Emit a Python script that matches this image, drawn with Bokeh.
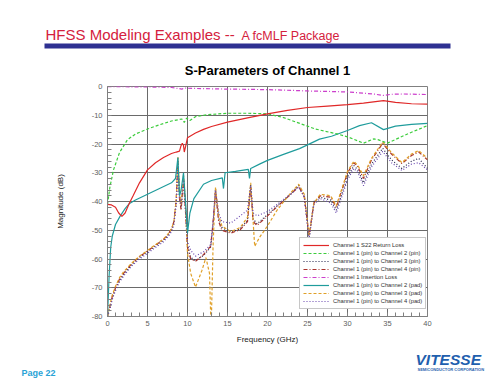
from bokeh.plotting import figure
from bokeh.layouts import column
from bokeh.models import Label, BoxAnnotation, Legend, LegendItem, FixedTicker, Range1d
from bokeh.embed import file_html
from bokeh.resources import INLINE

# ---------------- data ----------------
x_ticks = [0, 5, 10, 15, 20, 25, 30, 35, 40]
x_tick_labels = ["0", "5", "10", "15", "20", "25", "30", "35", "40"]
y_ticks = [0, -10, -20, -30, -40, -50, -60, -70, -80]
y_tick_labels = ["0", "-10", "-20", "-30", "-40", "-50", "-60", "-70", "-80"]

series_names = [
    "Channel 1 S22 Return Loss",
    "Channel 1 (pin) to Channel 2 (pin)",
    "Channel 1 (pin) to Channel 3 (pin)",
    "Channel 1 (pin) to Channel 4 (pin)",
    "Channel 1 Insertion Loss",
    "Channel 1 (pin) to Channel 2 (pad)",
    "Channel 1 (pin) to Channel 3 (pad)",
    "Channel 1 (pin) to Channel 4 (pad)",
]

f_rl = [0, 0.5, 1, 1.4, 1.8, 2.2, 2.7, 3.2, 4, 5, 6, 7, 8, 8.6, 9.0, 9.2, 9.35, 9.5, 9.6, 9.75,
        10, 11, 12, 13, 15, 17.5, 20, 22.5, 25, 27.5, 30, 32, 34.5, 36, 38, 40]
db_rl = [-41, -41.2, -42, -44, -45.2, -44, -40.8, -38, -33.5, -29, -26.5, -24.7, -23.3, -22.8, -22.5, -20.5, -19.8, -20.5, -22.8, -21,
         -17.8, -16.2, -14.9, -13.9, -12.4, -10.9, -9.5, -8.3, -7.3, -6.8, -6.3, -5.8, -4.9, -5.5, -6, -6.1]

f_c2pin = [0, 0.3, 0.75, 1.5, 2.5, 3.5, 5, 6.5, 8, 9.3, 9.6, 9.9, 10.3, 11, 12.5, 15, 17.5, 20, 22, 23,
           25, 26, 28.7, 30, 32, 33.3, 33.8, 35, 37.5, 40]
db_c2pin = [-41, -35, -29, -23, -18.5, -16.5, -14.8, -13.3, -12, -11.3, -12.5, -11, -11.8, -10.5, -9.8, -9.3, -9.3, -9.5, -10.8, -11.8,
            -13.8, -14.8, -16.5, -17.5, -19.7, -18.2, -18.5, -19.7, -16.5, -13.6]

f_low = [0, 0.3, 0.6, 1, 1.5, 2, 3, 4, 5, 6, 7, 7.5, 8, 8.3, 8.6, 8.8, 9.0, 9.2, 9.5, 9.7,
         10.0, 10.4, 11, 12, 12.9, 13.2, 13.5, 13.9, 14.3, 15.4, 16.6, 17.5, 17.9, 18.2, 18.7, 20, 21.2, 22.9, 23.9, 24.6,
         25.2, 25.8, 26.6, 27.9, 28.6, 30, 30.8, 31.3, 32, 33, 34.4, 35.5, 36.8, 38, 38.9, 40]
db_c3pin = [-80, -77, -73.5, -70.5, -67.5, -65.5, -62, -59.5, -57.5, -55.5, -53.5, -52, -50, -47.5, -40, -25, -38, -42, -32, -40,
            -55, -59.5, -60.5, -58.8, -55.9, -48, -35.5, -46, -49, -50.7, -49.5, -46.5, -34, -46, -47.8, -44.5, -41.5, -37.3, -34.5, -38,
            -53, -40, -38.5, -39.5, -43, -31.5, -27.5, -29, -33.5, -27, -21.5, -25.5, -28.5, -26, -25, -28.5]
db_c4pin = [-80, -76.5, -73, -70, -67, -65, -61.7, -59.2, -57.2, -55.2, -53.2, -51.7, -49.5, -47, -39, -26, -39, -43, -33, -41,
            -56, -60, -60.8, -58.5, -55.5, -47, -36.5, -47, -50, -51, -49.8, -47, -35, -47, -48.3, -45, -41.8, -37.5, -34.8, -38.5,
            -52, -40.5, -38, -38.5, -42, -30, -26.5, -28, -32, -25.5, -19.8, -23.5, -26.8, -24, -22.8, -25.5]
db_c4pad = [-80, -77.5, -74, -71, -68, -66, -62.5, -60, -58, -56, -54, -52.5, -50.5, -48, -41, -26, -38.5, -41, -32.5, -40.5,
            -54, -57, -59, -57.5, -55, -47, -36, -44, -47, -47.5, -45, -43, -34.5, -44, -45, -43.5, -41, -37.5, -35, -38.5,
            -53, -41, -39, -40.5, -44, -32.5, -28.5, -30, -34.5, -28, -22.6, -26.5, -29.2, -27, -26.5, -29]

f_c3pad = [0, 0.3, 0.6, 1, 1.5, 2, 3, 4, 5, 6, 7, 7.5, 8, 8.3, 8.6, 8.8, 9.0, 9.2, 9.5, 9.7,
           10.0, 10.4, 11, 11.8, 12.3, 12.75, 12.95, 13.2, 13.5, 13.9, 14.3, 15.4, 16.6, 17.5, 17.9, 18.4, 19, 20, 21.2, 22.9,
           23.9, 24.6, 25.2, 25.8, 26.6, 27.9, 28.6, 30, 30.8, 31.3, 32, 33, 34.4, 35.5, 36.8, 38, 38.9, 40]
db_c3pad = [-80, -76, -72.5, -69.5, -66.5, -64.5, -61.5, -59, -57, -55, -53, -51.5, -49.5, -47, -39, -24.5, -37, -41, -31, -38,
            -58, -65, -69.8, -64, -59.5, -65, -85, -55, -35, -45, -48.5, -50.5, -49, -45.5, -33.5, -55.6, -52.5, -48.5, -43, -37,
            -34, -37.5, -52, -40.5, -37.5, -38, -41.5, -29.5, -26, -27.5, -31, -25, -19.3, -23, -26.5, -23.5, -22.3, -25]

f_il = [0, 3, 6, 8, 9.3, 9.6, 10, 12, 15, 18, 20, 22.5, 25, 28, 30, 32, 33.5, 34.5, 35.5, 37, 40]
db_il = [-0.05, -0.1, -0.2, -0.35, -0.9, -0.5, -0.6, -0.75, -0.9, -1.0, -1.1, -1.3, -1.55, -1.75, -1.9, -2.3, -2.7, -3.1, -2.7, -2.6, -2.8]

f_c2pad = [0, 0.2, 0.4, 0.6, 1, 1.6, 2.2, 2.7, 3.5, 5, 6.5, 8, 8.5, 8.8, 9.0, 9.2, 9.5, 9.75, 10.0, 10.3,
           10.8, 12, 13, 14.35, 14.5, 14.7, 16, 17.6, 17.75, 17.9, 19, 20, 22, 24, 25, 26.5, 28, 30, 31.5, 33,
           34.5, 36, 38, 40]
db_c2pad = [-80, -66, -56, -52, -48, -45, -42.5, -40.8, -39.5, -37.5, -35.5, -33.5, -32, -24.7, -38, -36, -30, -40, -51, -44,
            -39, -34, -32.7, -31.8, -35.5, -30, -29.5, -28.8, -32, -28.5, -27, -25.7, -23.6, -21.6, -20.3, -18.3, -17.3, -15.3, -13.6, -12.6,
            -15, -13.8, -13.2, -12.8]

SANS = "'Liberation Sans', Arial, sans-serif"


def blank(h):
    f = figure(width=500, height=h, output_backend="svg", toolbar_location=None, title=None,
               x_range=Range1d(0, 500), y_range=Range1d(h, 0),
               x_axis_location=None, y_axis_location=None, min_border=0)
    f.frame_align = False
    f.grid.visible = False
    f.outline_line_color = None
    f.background_fill_color = "white"
    f.border_fill_color = "white"
    return f


# ---------------- header (slide title) ----------------
header = blank(51)
header.add_layout(Label(x=45, y=33.5, text="HFSS Modeling Examples --", text_font=SANS,
                        text_font_size="15px", text_color="#d4213d", text_baseline="middle"))
header.add_layout(Label(x=241, y=35, text="A fcMLF Package", text_font=SANS,
                        text_font_size="12.5px", text_color="#d4213d", text_baseline="middle"))
header.add_layout(BoxAnnotation(left=44, right=450, top=43, bottom=48,
                                fill_color="#2e3192", fill_alpha=1, line_alpha=0))

# ---------------- main chart ----------------
p = figure(width=500, height=295, output_backend="svg", toolbar_location=None,
           x_range=Range1d(0, 40), y_range=Range1d(-80, 0),
           min_border_left=107, min_border_right=73, min_border_top=35, min_border_bottom=30)
p.frame_align = False
p.background_fill_color = "white"
p.border_fill_color = "white"
p.outline_line_color = "#808080"

p.title.text = "S-Parameters of Channel 1"
p.title.align = "center"
p.title.text_font = SANS
p.title.text_font_size = "13px"
p.title.text_font_style = "bold"
p.title.text_color = "black"
p.title.standoff = 17

p.xaxis.ticker = FixedTicker(ticks=x_ticks, minor_ticks=list(range(0, 41)))
p.xaxis.major_label_overrides = dict(zip(x_ticks, x_tick_labels))
p.yaxis.ticker = FixedTicker(ticks=y_ticks, minor_ticks=list(range(-80, 1, 2)))
p.yaxis.major_label_overrides = dict(zip(y_ticks, y_tick_labels))

for ax in (p.xaxis[0], p.yaxis[0]):
    ax.axis_line_color = "#808080"
    ax.major_tick_in = 0
    ax.major_tick_out = 0
    ax.minor_tick_in = 4
    ax.minor_tick_out = 0
    ax.minor_tick_line_color = "#808080"
    ax.major_label_text_font = SANS
    ax.major_label_text_font_size = "7.5px"
    ax.major_label_text_color = "#606060"
    ax.axis_label_text_font = SANS
    ax.axis_label_text_font_size = "8px"
    ax.axis_label_text_font_style = "normal"
    ax.axis_label_text_color = "#202020"

p.xaxis.axis_label = "Frequency (GHz)"
p.yaxis.axis_label = "Magnitude (dB)"
p.xaxis.major_label_standoff = 4
p.yaxis.major_label_standoff = 5
p.xaxis.axis_label_standoff = 6
p.yaxis.axis_label_standoff = 24

p.xgrid.grid_line_color = "#6a6a6a"
p.ygrid.grid_line_color = "#6a6a6a"
p.xgrid.grid_line_width = 1
p.ygrid.grid_line_width = 1

lw = 1.2
r_c3pin = p.line(f_low, db_c3pin, line_color="#20204a", line_width=lw, line_dash="1 2")
r_c4pin = p.line(f_low, db_c4pin, line_color="#a8332c", line_width=lw, line_dash="4 2 1 2")
r_c3pad = p.line(f_c3pad, db_c3pad, line_color="#e0a028", line_width=lw, line_dash="3 2")
r_c4pad = p.line(f_low, db_c4pad, line_color="#6a48b0", line_width=lw, line_dash="1 2")
r_c2pad = p.line(f_c2pad, db_c2pad, line_color="#1f9c9c", line_width=lw)
r_c2pin = p.line(f_c2pin, db_c2pin, line_color="#3ccc3c", line_width=lw, line_dash="3 2")
r_rl = p.line(f_rl, db_rl, line_color="#e02828", line_width=lw)
r_il = p.line(f_il, db_il, line_color="#cc3fcc", line_width=lw, line_dash="4 2 1 2")

renderers = [r_rl, r_c2pin, r_c3pin, r_c4pin, r_il, r_c2pad, r_c3pad, r_c4pad]
legend = Legend(items=[LegendItem(label=n, renderers=[r]) for n, r in zip(series_names, renderers)],
                location=(192, 7))
legend.label_text_font = SANS
legend.label_text_font_size = "5.8px"
legend.label_text_color = "#303030"
legend.label_height = 8
legend.glyph_height = 8
legend.glyph_width = 26
legend.label_standoff = 4
legend.spacing = 0
legend.padding = 3
legend.margin = 0
legend.border_line_color = "#909090"
legend.background_fill_color = "white"
legend.background_fill_alpha = 1
p.add_layout(legend)

# ---------------- footer ----------------
footer = blank(40)
footer.add_layout(Label(x=21, y=26, text="Page 22", text_font=SANS, text_font_size="9px",
                        text_font_style="bold", text_color="#2aa3d6", text_baseline="middle"))
footer.add_layout(Label(x=415, y=13, text="VITESSE", text_font=SANS, text_font_size="15.5px",
                        text_font_style="bold italic", text_color="#1f5fae", text_baseline="middle"))
footer.add_layout(Label(x=417, y=23, text="SEMICONDUCTOR CORPORATION", text_font=SANS,
                        text_font_size="4px", text_font_style="bold", text_color="#1f5fae",
                        text_baseline="middle"))

layout = column(header, p, footer, spacing=0)
open("out.html", "w").write(file_html(layout, INLINE))
